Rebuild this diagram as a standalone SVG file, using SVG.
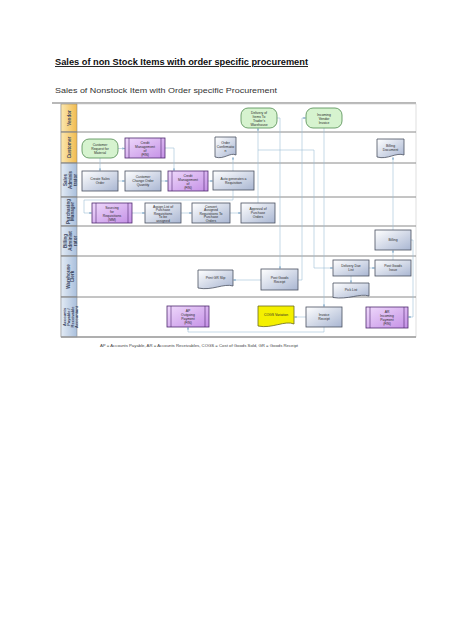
<svg xmlns="http://www.w3.org/2000/svg" width="453" height="640" viewBox="0 0 453 640">
<style>
.t{font-family:"Liberation Sans",Arial,sans-serif;font-size:3.4px;text-anchor:middle;fill:#2a2a2a}
.lane{font-family:"Liberation Sans",Arial,sans-serif;font-size:4.6px;font-weight:bold;text-anchor:middle;fill:#3a4660}
.proc{fill:url(#gBlue);stroke:#4a5060;stroke-width:0.8}
.purp{fill:url(#gPurp);stroke:#4e2a6e;stroke-width:0.8}
.bar{stroke:#4e2a6e;stroke-width:0.6}
.green{fill:#d6f3cf;stroke:#4f8a4f;stroke-width:0.8}
.yel{fill:#f4f000;stroke:#6a6a20;stroke-width:0.8}
.sep{stroke:#8a8a8a;stroke-width:1}
.conn{fill:none;stroke:#9fbfd6;stroke-width:0.6;marker-end:url(#arr)}
.connp{fill:none;stroke:#9fbfd6;stroke-width:0.6}
</style>
<defs>
<linearGradient id="gBlue" x1="0" y1="0" x2="1" y2="1">
<stop offset="0" stop-color="#ffffff"/><stop offset="1" stop-color="#a9b6d2"/>
</linearGradient>
<linearGradient id="gPurp" x1="0" y1="0" x2="1" y2="1">
<stop offset="0" stop-color="#efd9fb"/><stop offset="1" stop-color="#c490e6"/>
</linearGradient>
<linearGradient id="gOr" x1="0" y1="0" x2="1" y2="0">
<stop offset="0" stop-color="#fbe7b0"/><stop offset="1" stop-color="#f1bb4e"/>
</linearGradient>
<linearGradient id="gLb" x1="0" y1="0" x2="1" y2="0">
<stop offset="0" stop-color="#e3ebf5"/><stop offset="1" stop-color="#a9bfdc"/>
</linearGradient>
<marker id="arr" viewBox="0 0 6 6" refX="6" refY="3" markerWidth="2.6" markerHeight="2.6" markerUnits="userSpaceOnUse" orient="auto">
<path d="M0,0 L6,3 L0,6 Z" fill="#8fb3cf"/>
</marker>
</defs>
<rect width="453" height="640" fill="#ffffff"/>

<text x="55" y="65" font-family="Liberation Sans,Arial,sans-serif" font-size="9" font-weight="bold" text-decoration="underline" textLength="253" lengthAdjust="spacingAndGlyphs" fill="#111">Sales of non Stock Items with order specific procurement</text>
<text x="55" y="93" font-family="Liberation Sans,Arial,sans-serif" font-size="8" textLength="222" lengthAdjust="spacingAndGlyphs" fill="#333">Sales of Nonstock Item with Order specific Procurement</text>

<g id="frame">
<line x1="52" y1="103" x2="416" y2="103" stroke="#a0a0a0" stroke-width="1.6"/>
<rect x="61" y="104" width="355" height="233" fill="none" stroke="#c8c8c8" stroke-width="0.6"/>
<rect x="61" y="104" width="16" height="28" fill="url(#gOr)" stroke="#7a7a7a" stroke-width="0.5"/>
<rect x="61" y="132" width="16" height="31" fill="url(#gOr)" stroke="#7a7a7a" stroke-width="0.5"/>
<rect x="61" y="163" width="16" height="34" fill="url(#gLb)" stroke="#7a7a7a" stroke-width="0.5"/>
<rect x="61" y="197" width="16" height="29" fill="url(#gLb)" stroke="#7a7a7a" stroke-width="0.5"/>
<rect x="61" y="226" width="16" height="30" fill="url(#gLb)" stroke="#7a7a7a" stroke-width="0.5"/>
<rect x="61" y="256" width="16" height="41" fill="url(#gLb)" stroke="#7a7a7a" stroke-width="0.5"/>
<rect x="61" y="297" width="16" height="40" fill="url(#gLb)" stroke="#7a7a7a" stroke-width="0.5"/>
<line class="sep" x1="61" y1="132" x2="416" y2="132"/>
<line class="sep" x1="61" y1="163" x2="416" y2="163"/>
<line class="sep" x1="61" y1="197" x2="416" y2="197"/>
<line class="sep" x1="61" y1="226" x2="416" y2="226"/>
<line class="sep" x1="61" y1="256" x2="416" y2="256"/>
<line class="sep" x1="61" y1="297" x2="416" y2="297"/>
<line x1="61" y1="337" x2="416" y2="337" stroke="#9a9a9a" stroke-width="1.4"/>
<text class="lane" transform="translate(70.5,118) rotate(-90)">Vendor</text>
<text class="lane" transform="translate(70.5,147.5) rotate(-90)">Customer</text>
<text class="lane" transform="translate(70.5,180) rotate(-90)"><tspan x="0" y="-3.4">Sales</tspan><tspan x="0" y="1.4">Adminis</tspan><tspan x="0" y="6.2">trator</tspan></text>
<text class="lane" transform="translate(70.5,211.5) rotate(-90)"><tspan x="0" y="-1">Purchasing</tspan><tspan x="0" y="3.8">Manager</tspan></text>
<text class="lane" transform="translate(70.5,241) rotate(-90)"><tspan x="0" y="-3.4">Billing</tspan><tspan x="0" y="1.4">Administ</tspan><tspan x="0" y="6.2">rator</tspan></text>
<text class="lane" transform="translate(70.5,276.5) rotate(-90)"><tspan x="0" y="-1">Warehouse</tspan><tspan x="0" y="3.8">Clerk</tspan></text>
<text class="lane" transform="translate(70.5,317) rotate(-90)" style="font-size:4px"><tspan x="0" y="-5">Accounts</tspan><tspan x="0" y="-1">Payable /</tspan><tspan x="0" y="3">Receivable</tspan><tspan x="0" y="7">Accountant</tspan></text>
</g>

<g id="connectors">
<path class="conn" d="M118,148.5 H125"/>
<path class="conn" d="M165,148 H174 V171"/>
<path class="conn" d="M100,158 V171"/>
<path class="conn" d="M118,181 H125"/>
<path class="conn" d="M161,181 H168"/>
<path class="conn" d="M208,181 H213"/>
<path class="conn" d="M233,171 V157"/>
<path class="conn" d="M233,190 V200 H84 V213 H92"/>
<path class="conn" d="M132,213 H145"/>
<path class="conn" d="M181,213 H192"/>
<path class="conn" d="M230,213 H241"/>
<path class="conn" d="M258,203 V128"/>
<path class="conn" d="M277,118 H280 V269"/>
<path class="conn" d="M261,280 H233"/>
<path class="conn" d="M298,280 H302 V118 H306"/>
<path class="conn" d="M258,150 H314 V268 H333"/>
<path class="conn" d="M324,128 V307"/>
<path class="conn" d="M306,317 H294"/>
<path class="conn" d="M324,327 V332 H188 V327"/>
<path class="conn" d="M351,276 V283"/>
<path class="conn" d="M369,268 H375"/>
<path class="conn" d="M393,260 V250"/>
<path class="conn" d="M393,230 V157"/>
<path class="conn" d="M411,240 H413 V317 H408"/>
</g>

<g id="n-delivery">
<rect class="green" x="241" y="108" width="36" height="20" rx="7"/>
<text class="t"><tspan x="259" y="113.5">Delivery of</tspan><tspan x="259" y="117.5">Items To</tspan><tspan x="259" y="121.5">Trader's</tspan><tspan x="259" y="125.5">Warehouse</tspan></text>
</g>
<g id="n-vendor-invoice">
<rect class="green" x="306" y="108" width="36" height="20" rx="7"/>
<text class="t"><tspan x="324" y="115.5">Incoming</tspan><tspan x="324" y="119.5">Vendor</tspan><tspan x="324" y="123.5">Invoice</tspan></text>
</g>
<g id="n-cust-request">
<rect class="green" x="82" y="139" width="36" height="19" rx="7"/>
<text class="t"><tspan x="100" y="146">Customer</tspan><tspan x="100" y="150">Request for</tspan><tspan x="100" y="154">Material</tspan></text>
</g>
<g id="n-credit1">
<rect class="purp" x="125" y="138" width="40" height="20"/>
<line class="bar" x1="129" y1="138" x2="129" y2="158"/><line class="bar" x1="161" y1="138" x2="161" y2="158"/>
<text class="t"><tspan x="145" y="143.5">Credit</tspan><tspan x="145" y="147.5">Management</tspan><tspan x="145" y="151.5">of</tspan><tspan x="145" y="155.5">(FIN)</tspan></text>
</g>
<g id="n-order-conf">
<path class="proc" d="M215,137 H236 V155 C230,152 224,160 215,157 Z"/>
<text class="t"><tspan x="225.5" y="144">Order</tspan><tspan x="225.5" y="148">Confirmatio</tspan><tspan x="225.5" y="152">n</tspan></text>
</g>
<g id="n-billing-doc">
<path class="proc" d="M377,139 H404 V155 C396,152 388,160 377,157 Z"/>
<text class="t"><tspan x="390.5" y="146.5">Billing</tspan><tspan x="390.5" y="150.5">Document</tspan></text>
</g>
<g id="n-create-so">
<rect class="proc" x="82" y="171" width="36" height="20"/>
<text class="t"><tspan x="100" y="180">Create Sales</tspan><tspan x="100" y="184">Order</tspan></text>
</g>
<g id="n-change-qty">
<rect class="proc" x="125" y="171" width="36" height="20"/>
<text class="t"><tspan x="143" y="178">Customer</tspan><tspan x="143" y="182">Change Order</tspan><tspan x="143" y="186">Quantity</tspan></text>
</g>
<g id="n-credit2">
<rect class="purp" x="168" y="171" width="40" height="20"/>
<line class="bar" x1="172" y1="171" x2="172" y2="191"/><line class="bar" x1="204" y1="171" x2="204" y2="191"/>
<text class="t"><tspan x="188" y="176.5">Credit</tspan><tspan x="188" y="180.5">Management</tspan><tspan x="188" y="184.5">of</tspan><tspan x="188" y="188.5">(FIN)</tspan></text>
</g>
<g id="n-auto-req">
<rect class="proc" x="213" y="171" width="41" height="19"/>
<text class="t"><tspan x="233.5" y="179.5">Auto generates a</tspan><tspan x="233.5" y="183.5">Requisition</tspan></text>
</g>
<g id="n-sourcing">
<rect class="purp" x="92" y="203" width="40" height="20"/>
<line class="bar" x1="96" y1="203" x2="96" y2="223"/><line class="bar" x1="128" y1="203" x2="128" y2="223"/>
<text class="t"><tspan x="112" y="208.5">Sourcing</tspan><tspan x="112" y="212.5">for</tspan><tspan x="112" y="216.5">Requisitions</tspan><tspan x="112" y="220.5">(MM)</tspan></text>
</g>
<g id="n-assign">
<rect class="proc" x="145" y="203" width="36" height="20"/>
<text class="t"><tspan x="163" y="207.5">Assign List of</tspan><tspan x="163" y="211">Purchase</tspan><tspan x="163" y="214.5">Requisitions</tspan><tspan x="163" y="218">To be</tspan><tspan x="163" y="221.5">assigned</tspan></text>
</g>
<g id="n-convert">
<rect class="proc" x="192" y="203" width="38" height="20"/>
<text class="t"><tspan x="211" y="207.5">Convert</tspan><tspan x="211" y="211">Assigned</tspan><tspan x="211" y="214.5">Requisitions To</tspan><tspan x="211" y="218">Purchase</tspan><tspan x="211" y="221.5">Orders</tspan></text>
</g>
<g id="n-approval">
<rect class="proc" x="241" y="203" width="34" height="20"/>
<text class="t"><tspan x="258" y="210">Approval of</tspan><tspan x="258" y="214">Purchase</tspan><tspan x="258" y="218">Orders</tspan></text>
</g>
<g id="n-billing">
<rect class="proc" x="375" y="230" width="36" height="20"/>
<text class="t"><tspan x="393" y="241">Billing</tspan></text>
</g>
<g id="n-print-gr">
<path class="proc" d="M198,270 H233 V286 C224,283 212,291 198,288 Z"/>
<text class="t"><tspan x="215.5" y="279">Print GR Slip</tspan></text>
</g>
<g id="n-post-gr">
<rect class="proc" x="261" y="269" width="37" height="21"/>
<text class="t"><tspan x="279.5" y="278.5">Post Goods</tspan><tspan x="279.5" y="282.5">Receipt</tspan></text>
</g>
<g id="n-due-list">
<rect class="proc" x="333" y="260" width="36" height="16"/>
<text class="t"><tspan x="351" y="267">Delivery Due</tspan><tspan x="351" y="271">List</tspan></text>
</g>
<g id="n-post-gi">
<rect class="proc" x="375" y="260" width="36" height="16"/>
<text class="t"><tspan x="393" y="267">Post Goods</tspan><tspan x="393" y="271">Issue</tspan></text>
</g>
<g id="n-pick-list">
<path class="proc" d="M333,283 H369 V296 C360,293 348,300 333,297.5 Z"/>
<text class="t"><tspan x="351" y="290.5">Pick List</tspan></text>
</g>
<g id="n-ap-payment">
<rect class="purp" x="167" y="306" width="42" height="21"/>
<line class="bar" x1="171" y1="306" x2="171" y2="327"/><line class="bar" x1="205" y1="306" x2="205" y2="327"/>
<text class="t"><tspan x="188" y="311.5">AP</tspan><tspan x="188" y="315.5">Outgoing</tspan><tspan x="188" y="319.5">Payment</tspan><tspan x="188" y="323.5">(FIN)</tspan></text>
</g>
<g id="n-cogs">
<path class="yel" d="M258,306 H294 V324 C285,320 272,329 258,326 Z"/>
<text class="t"><tspan x="276" y="316">COGS Variation</tspan></text>
</g>
<g id="n-invoice-receipt">
<rect class="proc" x="306" y="307" width="36" height="20"/>
<text class="t"><tspan x="324" y="316">Invoice</tspan><tspan x="324" y="320">Receipt</tspan></text>
</g>
<g id="n-ar-payment">
<rect class="purp" x="366" y="307" width="42" height="21"/>
<line class="bar" x1="370" y1="307" x2="370" y2="328"/><line class="bar" x1="404" y1="307" x2="404" y2="328"/>
<text class="t"><tspan x="387" y="312.5">AR</tspan><tspan x="387" y="316.5">Incoming</tspan><tspan x="387" y="320.5">Payment</tspan><tspan x="387" y="324.5">(FIN)</tspan></text>
</g>

<text x="100" y="347" font-family="Liberation Sans,Arial,sans-serif" font-size="3.6" textLength="198" lengthAdjust="spacingAndGlyphs" fill="#444">AP = Accounts Payable,  AR = Accounts Receivables,  COGS = Cost of Goods Sold, GR = Goods Receipt</text>
</svg>
